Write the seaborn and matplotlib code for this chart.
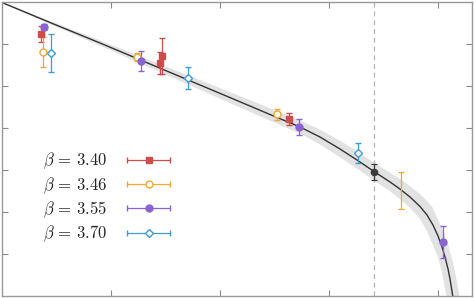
import numpy as np
import matplotlib
matplotlib.use("Agg")
from matplotlib import pyplot as plt
from matplotlib.container import ErrorbarContainer
from matplotlib.legend_handler import HandlerErrorbar
import seaborn as sns

# fitted curve
curve_x = [0.000, 0.440, 0.899, 1.358, 1.817, 2.275, 2.459, 2.734, 2.917, 3.101,
           3.257, 3.413, 3.560, 3.651, 3.743, 3.835, 3.899, 3.954, 4.000, 4.037,
           4.064, 4.092, 4.110, 4.128, 4.138]
curve_y = [6.988, 6.512, 6.024, 5.524, 5.024, 4.524, 4.321, 4.024, 3.786, 3.500,
           3.238, 2.964, 2.714, 2.548, 2.357, 2.131, 1.929, 1.690, 1.429, 1.167,
           0.929, 0.643, 0.405, 0.119, -0.048]

# uncertainty band around the curve
band_x = [0.000, 0.440, 0.899, 1.358, 1.817, 2.275, 2.459, 2.734, 2.917, 3.101,
          3.257, 3.413, 3.560, 3.651, 3.743, 3.835, 3.899, 3.954, 4.000, 4.037,
          4.064, 4.092, 4.110, 4.128, 4.138, 4.156, 4.174, 4.193, 4.202]
band_hi = [7.001, 6.550, 6.088, 5.614, 5.141, 4.664, 4.469, 4.179, 3.962, 3.698,
           3.443, 3.176, 2.935, 2.786, 2.614, 2.429, 2.262, 2.095, 1.810, 1.619,
           1.429, 1.226, 1.048, 0.881, 0.786, 0.583, 0.333, 0.048, -0.05]
band_lo = [6.975, 6.474, 5.960, 5.434, 4.907, 4.384, 4.173, 3.869, 3.610, 3.302,
           3.033, 2.752, 2.493, 2.310, 2.100, 1.833, 1.550, 1.214, 0.929, 0.548,
           0.190, -0.2, -0.2, -0.2, -0.2, -0.2, -0.2, -0.2, -0.2]

# lattice data
x_340 = [0.358, 1.468, 1.450, 2.633]
y_340 = [6.238, 5.714, 5.548, 4.214]
e_340 = [0.19, 0.43, 0.26, 0.14]

x_346 = [0.376, 1.239, 2.523, 3.661]
y_346 = [5.810, 5.690, 4.330, 2.520]
e_346 = [0.36, 0.10, 0.13, 0.44]
mark_346 = [True, True, True, False]   # last point drawn without symbol

x_355 = [0.385, 1.275, 2.725, 4.046]
y_355 = [6.400, 5.595, 4.024, 1.286]
e_355 = [0.07, 0.24, 0.19, 0.37]

x_370 = [0.450, 1.706, 3.266]
y_370 = [5.786, 5.190, 3.405]
e_370 = [0.46, 0.26, 0.24]

x_ext = [3.413]
y_ext = [2.952]
e_ext = [0.19]

labels = [r"$\beta\,=\,3.40$", r"$\beta\,=\,3.46$", r"$\beta\,=\,3.55$", r"$\beta\,=\,3.70$"]
colors = ["#d24b4b", "#f0a830", "#8a63d2", "#3d9bd8"]

sns.set_theme(style="ticks")
plt.rcParams["mathtext.fontset"] = "cm"

fig = plt.figure(figsize=(4.74, 2.98), dpi=100)
ax = fig.add_axes([2 / 474, 2 / 298, 470 / 474, 294 / 298])

ax.fill_between(band_x, band_lo, band_hi, color="#e2e2e2", lw=0, zorder=1)
sns.lineplot(x=curve_x, y=curve_y, ax=ax, color="#333333", lw=1.0,
             estimator=None, sort=False, zorder=2)
ax.axvline(x_ext[0], color="#b5b5b5", lw=0.9, ls=(0, (4, 3)), zorder=1.5)

series = [
    (x_340, y_340, e_340, [True] * 4, "s", colors[0], colors[0]),
    (x_346, y_346, e_346, mark_346, "o", colors[1], "white"),
    (x_355, y_355, e_355, [True] * 4, "o", colors[2], colors[2]),
    (x_370, y_370, e_370, [True] * 3, "D", colors[3], "white"),
]
handles = []
for (xs, ys, es, ms_on, mk, c, fc), lab in zip(series, labels):
    ms = 5 if mk != "D" else 4
    xs, ys, es, ms_on = map(np.asarray, (xs, ys, es, ms_on))
    ax.errorbar(xs[ms_on], ys[ms_on], yerr=es[ms_on], fmt=mk, color=c, mfc=fc, mec=c,
                ms=ms, mew=1.0, elinewidth=0.9, capsize=2.5, capthick=0.9, zorder=3)
    if (~ms_on).any():
        ax.errorbar(xs[~ms_on], ys[~ms_on], yerr=es[~ms_on], fmt="none", ecolor=c,
                    elinewidth=0.9, capsize=2.5, capthick=0.9, zorder=3)
    h = ax.errorbar([np.nan], [np.nan], xerr=[1.0], fmt=mk, color=c, mfc=fc, mec=c,
                    ms=ms, mew=1.0, elinewidth=0.9, capsize=2.5, capthick=0.9)
    handles.append(h)

ax.errorbar(x_ext, y_ext, yerr=e_ext, fmt="o", color="#3a3a3a", ms=4.5,
            elinewidth=0.9, capsize=2.5, capthick=0.9, zorder=3)

ax.set_xlim(0, 470 / 109)
ax.set_ylim(0, 7.0)
ax.set_xticks([1, 2, 3, 4])
ax.set_yticks([1, 2, 3, 4, 5, 6])
ax.tick_params(direction="in", length=4, width=0.8, color="#888888",
               top=True, right=True, labelbottom=False, labelleft=False)
for s in ax.spines.values():
    s.set_color("#999999")
    s.set_linewidth(1.0)
ax.set_xlabel("")
ax.set_ylabel("")

ax.legend(handles, labels, loc="center left", bbox_to_anchor=(0.087, 0.335),
          frameon=False, markerfirst=False, fontsize=12, labelspacing=0.23,
          handlelength=2.6, handletextpad=1.2, borderpad=0, borderaxespad=0,
          numpoints=1,
          handler_map={ErrorbarContainer: HandlerErrorbar(xerr_size=1.3)})

fig.savefig("out.png", dpi=100)
